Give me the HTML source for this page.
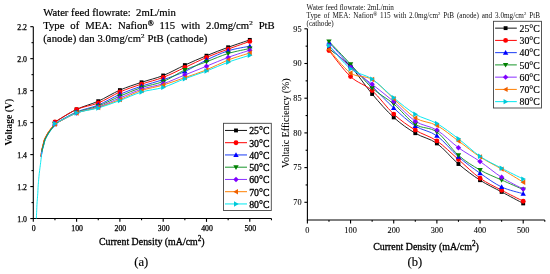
<!DOCTYPE html>
<html><head><meta charset="utf-8"><style>
html,body{margin:0;padding:0;background:#fff;}
body{width:550px;height:274px;position:relative;overflow:hidden;font-family:"Liberation Serif", serif;filter:blur(0.3px);}
svg{position:absolute;left:0;top:0;}
.t{position:absolute;white-space:nowrap;color:#000;-webkit-text-stroke:0.2px #000;}
.ns{-webkit-text-stroke:0;color:#111;}
text{stroke:#000;stroke-width:0.3px;}
.tk text{stroke-width:0.25px;}
.tr text{stroke-width:0.08px;}
.j{text-align:justify;text-align-last:justify;white-space:normal;}
.reg{font-size:0.74em;font-weight:bold;position:relative;top:-0.42em;line-height:0;}
.s2{font-size:0.66em;position:relative;top:-0.55em;line-height:0;}
</style></head><body>
<svg width="550" height="274" viewBox="0 0 550 274">
<g stroke="#000" stroke-width="1.1" fill="none">
<line x1="33.30" y1="26.67" x2="33.30" y2="219.05"/>
<line x1="32.80" y1="218.55" x2="271.45" y2="218.55"/>
<line x1="30.30" y1="218.55" x2="33.30" y2="218.55"/>
<line x1="30.30" y1="186.57" x2="33.30" y2="186.57"/>
<line x1="30.30" y1="154.59" x2="33.30" y2="154.59"/>
<line x1="30.30" y1="122.61" x2="33.30" y2="122.61"/>
<line x1="30.30" y1="90.63" x2="33.30" y2="90.63"/>
<line x1="30.30" y1="58.65" x2="33.30" y2="58.65"/>
<line x1="30.30" y1="26.67" x2="33.30" y2="26.67"/>
<line x1="31.50" y1="202.56" x2="33.30" y2="202.56"/>
<line x1="31.50" y1="170.58" x2="33.30" y2="170.58"/>
<line x1="31.50" y1="138.60" x2="33.30" y2="138.60"/>
<line x1="31.50" y1="106.62" x2="33.30" y2="106.62"/>
<line x1="31.50" y1="74.64" x2="33.30" y2="74.64"/>
<line x1="31.50" y1="42.66" x2="33.30" y2="42.66"/>
<line x1="33.30" y1="218.55" x2="33.30" y2="221.85"/>
<line x1="76.60" y1="218.55" x2="76.60" y2="221.85"/>
<line x1="119.90" y1="218.55" x2="119.90" y2="221.85"/>
<line x1="163.20" y1="218.55" x2="163.20" y2="221.85"/>
<line x1="206.50" y1="218.55" x2="206.50" y2="221.85"/>
<line x1="249.80" y1="218.55" x2="249.80" y2="221.85"/>
<line x1="54.95" y1="218.55" x2="54.95" y2="220.35"/>
<line x1="98.25" y1="218.55" x2="98.25" y2="220.35"/>
<line x1="141.55" y1="218.55" x2="141.55" y2="220.35"/>
<line x1="184.85" y1="218.55" x2="184.85" y2="220.35"/>
<line x1="228.15" y1="218.55" x2="228.15" y2="220.35"/>
<line x1="271.45" y1="218.55" x2="271.45" y2="220.35"/>
</g>
<g class="tk" font-family='"Liberation Serif", serif' font-size="7.8" fill="#000">
<text x="27.00" y="221.55" text-anchor="end">1.0</text>
<text x="27.00" y="189.57" text-anchor="end">1.2</text>
<text x="27.00" y="157.59" text-anchor="end">1.4</text>
<text x="27.00" y="125.61" text-anchor="end">1.6</text>
<text x="27.00" y="93.63" text-anchor="end">1.8</text>
<text x="27.00" y="61.65" text-anchor="end">2.0</text>
<text x="27.00" y="29.67" text-anchor="end">2.2</text>
<text x="33.80" y="231.10" text-anchor="middle">0</text>
<text x="77.10" y="231.10" text-anchor="middle">100</text>
<text x="120.40" y="231.10" text-anchor="middle">200</text>
<text x="163.70" y="231.10" text-anchor="middle">300</text>
<text x="207.00" y="231.10" text-anchor="middle">400</text>
<text x="250.30" y="231.10" text-anchor="middle">500</text>
</g>
<path d="M54.95,122.00 C58.56,119.90 69.38,112.87 76.60,109.40 C83.82,105.93 91.03,104.42 98.25,101.20 C105.47,97.98 112.68,93.25 119.90,90.10 C127.12,86.95 134.33,84.73 141.55,82.30 C148.77,79.87 155.98,78.37 163.20,75.50 C170.42,72.63 177.63,68.40 184.85,65.10 C192.07,61.80 199.28,58.67 206.50,55.70 C213.72,52.73 220.93,49.93 228.15,47.30 C235.37,44.67 246.19,41.13 249.80,39.90" stroke="#151515" stroke-width="0.95" fill="none" stroke-linejoin="round"/>
<path d="M54.95,122.00 C58.56,119.90 69.38,112.57 76.60,109.40 C83.82,106.23 91.03,105.90 98.25,103.00 C105.47,100.10 112.68,95.15 119.90,92.00 C127.12,88.85 134.33,86.53 141.55,84.10 C148.77,81.67 155.98,80.17 163.20,77.40 C170.42,74.63 177.63,70.83 184.85,67.50 C192.07,64.17 199.28,60.47 206.50,57.40 C213.72,54.33 220.93,51.77 228.15,49.10 C235.37,46.43 246.19,42.68 249.80,41.40" stroke="#ff0000" stroke-width="0.95" fill="none" stroke-linejoin="round"/>
<path d="M54.95,123.50 C58.56,121.58 69.38,115.08 76.60,112.00 C83.82,108.92 91.03,107.95 98.25,105.00 C105.47,102.05 112.68,97.45 119.90,94.30 C127.12,91.15 134.33,88.53 141.55,86.10 C148.77,83.67 155.98,82.13 163.20,79.70 C170.42,77.27 177.63,74.78 184.85,71.50 C192.07,68.22 199.28,63.45 206.50,60.00 C213.72,56.55 220.93,53.10 228.15,50.80 C235.37,48.50 246.19,46.97 249.80,46.20" stroke="#1a3cf5" stroke-width="0.95" fill="none" stroke-linejoin="round"/>
<path d="M54.95,124.00 C58.56,122.08 69.38,115.50 76.60,112.50 C83.82,109.50 91.03,108.72 98.25,106.00 C105.47,103.28 112.68,99.28 119.90,96.20 C127.12,93.12 134.33,89.95 141.55,87.50 C148.77,85.05 155.98,84.42 163.20,81.50 C170.42,78.58 177.63,73.28 184.85,70.00 C192.07,66.72 199.28,64.55 206.50,61.80 C213.72,59.05 220.93,55.72 228.15,53.50 C235.37,51.28 246.19,49.33 249.80,48.50" stroke="#18962a" stroke-width="0.95" fill="none" stroke-linejoin="round"/>
<path d="M54.95,124.00 C58.56,122.17 69.38,115.83 76.60,113.00 C83.82,110.17 91.03,109.50 98.25,107.00 C105.47,104.50 112.68,100.97 119.90,98.00 C127.12,95.03 134.33,91.58 141.55,89.20 C148.77,86.82 155.98,86.07 163.20,83.70 C170.42,81.33 177.63,77.92 184.85,75.00 C192.07,72.08 199.28,69.13 206.50,66.20 C213.72,63.27 220.93,60.07 228.15,57.40 C235.37,54.73 246.19,51.40 249.80,50.20" stroke="#8a30ff" stroke-width="0.95" fill="none" stroke-linejoin="round"/>
<path d="M54.95,124.00 C58.56,122.17 69.38,115.75 76.60,113.00 C83.82,110.25 91.03,109.75 98.25,107.50 C105.47,105.25 112.68,102.33 119.90,99.50 C127.12,96.67 134.33,92.92 141.55,90.50 C148.77,88.08 155.98,87.15 163.20,85.00 C170.42,82.85 177.63,80.12 184.85,77.60 C192.07,75.08 199.28,72.83 206.50,69.90 C213.72,66.97 220.93,62.82 228.15,60.00 C235.37,57.18 246.19,54.17 249.80,53.00" stroke="#ff8000" stroke-width="0.95" fill="none" stroke-linejoin="round"/>
<path d="M54.95,123.70 C58.56,121.92 69.38,115.62 76.60,113.00 C83.82,110.38 91.03,110.08 98.25,108.00 C105.47,105.92 112.68,103.17 119.90,100.50 C127.12,97.83 134.33,94.18 141.55,92.00 C148.77,89.82 155.98,89.62 163.20,87.40 C170.42,85.18 177.63,81.43 184.85,78.70 C192.07,75.97 199.28,73.75 206.50,71.00 C213.72,68.25 220.93,64.83 228.15,62.20 C235.37,59.57 246.19,56.37 249.80,55.20" stroke="#00e8f0" stroke-width="0.95" fill="none" stroke-linejoin="round"/>
<path d="M41.05,156.47 L41.22,154.92 L41.40,153.36 L41.61,151.81 L41.86,150.26 L42.20,148.71 L42.60,147.16 L43.01,145.61 L43.38,144.06 L43.72,142.51 L44.10,140.96 L44.61,139.41 L45.35,137.86 L46.16,136.31 L47.01,134.75 L47.92,133.20 L48.93,131.65 L50.04,130.10 L51.27,128.55 L52.60,127.00 L54.95,122.00" stroke="#151515" stroke-width="0.95" fill="none" stroke-linejoin="round"/>
<path d="M41.02,156.47 L41.18,154.92 L41.36,153.36 L41.56,151.81 L41.81,150.26 L42.14,148.71 L42.54,147.16 L42.95,145.61 L43.31,144.06 L43.65,142.51 L44.02,140.96 L44.53,139.41 L45.26,137.86 L46.07,136.31 L46.91,134.75 L47.82,133.20 L48.83,131.65 L49.94,130.10 L51.17,128.55 L52.50,127.00 L54.95,122.00" stroke="#ff0000" stroke-width="0.95" fill="none" stroke-linejoin="round"/>
<path d="M40.95,156.47 L41.10,154.92 L41.27,153.36 L41.47,151.81 L41.70,150.26 L42.03,148.71 L42.42,147.16 L42.82,145.61 L43.17,144.06 L43.50,142.51 L43.87,140.96 L44.36,139.41 L45.09,137.86 L45.88,136.31 L46.72,134.75 L47.62,133.20 L48.63,131.65 L49.74,130.10 L50.97,128.55 L52.30,127.00 L54.95,124.00" stroke="#ff8000" stroke-width="0.95" fill="none" stroke-linejoin="round"/>
<path d="M41.26,156.47 L41.45,154.92 L41.66,153.36 L41.90,151.81 L42.17,150.26 L42.54,148.71 L42.97,147.16 L43.40,145.61 L43.80,144.06 L44.17,142.51 L44.58,140.96 L45.11,139.41 L45.88,137.86 L46.71,136.31 L47.58,134.75 L48.52,133.20 L49.53,131.65 L50.64,130.10 L51.87,128.55 L53.20,127.00 L54.95,123.50" stroke="#1a3cf5" stroke-width="0.95" fill="none" stroke-linejoin="round"/>
<path d="M41.29,156.47 L41.49,154.92 L41.70,153.36 L41.94,151.81 L42.22,150.26 L42.60,148.71 L43.03,147.16 L43.47,145.61 L43.87,144.06 L44.24,142.51 L44.65,140.96 L45.20,139.41 L45.96,137.86 L46.80,136.31 L47.68,134.75 L48.62,133.20 L49.63,131.65 L50.74,130.10 L51.97,128.55 L53.30,127.00 L54.95,124.00" stroke="#8a30ff" stroke-width="0.95" fill="none" stroke-linejoin="round"/>
<path d="M36.30,218.50 L36.39,216.95 L36.48,215.40 L36.56,213.85 L36.63,212.30 L36.69,210.75 L36.76,209.19 L36.82,207.64 L36.89,206.09 L36.97,204.54 L37.06,202.99 L37.17,201.44 L37.29,199.89 L37.41,198.34 L37.53,196.79 L37.65,195.24 L37.76,193.69 L37.85,192.14 L37.92,190.58 L37.99,189.03 L38.07,187.48 L38.17,185.93 L38.27,184.38 L38.39,182.83 L38.52,181.28 L38.65,179.73 L38.79,178.18 L38.94,176.63 L39.09,175.08 L39.26,173.53 L39.44,171.97 L39.63,170.42 L39.82,168.87 L40.03,167.32 L40.24,165.77 L40.45,164.22 L40.64,162.67 L40.82,161.12 L41.00,159.57 L41.18,158.02 L41.38,156.47 L41.58,154.92 L41.81,153.36 L42.06,151.81 L42.35,150.26 L42.74,148.71 L43.18,147.16 L43.63,145.61 L44.04,144.06 L44.43,142.51 L44.85,140.96 L45.40,139.41 L46.18,137.86 L47.03,136.31 L47.92,134.75 L48.87,133.20 L49.88,131.65 L50.99,130.10 L52.22,128.55 L53.55,127.00 L54.95,123.70" stroke="#00e8f0" stroke-width="0.95" fill="none" stroke-linejoin="round"/>
<path d="M41.85,151.81 L42.12,150.26 L42.48,148.71 L42.91,147.16 L43.34,145.61 L43.73,144.06 L44.09,142.51 L44.50,140.96 L45.03,139.41 L45.79,137.86 L46.62,136.31 L47.49,134.75 L48.42,133.20 L49.43,131.65 L50.54,130.10 L51.77,128.55 L53.10,127.00 L54.95,124.00" stroke="#18962a" stroke-width="0.95" fill="none" stroke-linejoin="round"/>
<rect x="53.01" y="120.06" width="3.87" height="3.87" fill="#000000"/>
<rect x="74.66" y="107.47" width="3.87" height="3.87" fill="#000000"/>
<rect x="96.31" y="99.27" width="3.87" height="3.87" fill="#000000"/>
<rect x="117.96" y="88.16" width="3.87" height="3.87" fill="#000000"/>
<rect x="139.62" y="80.36" width="3.87" height="3.87" fill="#000000"/>
<rect x="161.26" y="73.56" width="3.87" height="3.87" fill="#000000"/>
<rect x="182.92" y="63.16" width="3.87" height="3.87" fill="#000000"/>
<rect x="204.56" y="53.77" width="3.87" height="3.87" fill="#000000"/>
<rect x="226.21" y="45.36" width="3.87" height="3.87" fill="#000000"/>
<rect x="247.87" y="37.96" width="3.87" height="3.87" fill="#000000"/>
<circle cx="54.95" cy="122.00" r="2.43" fill="#ff0000"/>
<circle cx="76.60" cy="109.40" r="2.43" fill="#ff0000"/>
<circle cx="98.25" cy="103.00" r="2.43" fill="#ff0000"/>
<circle cx="119.90" cy="92.00" r="2.43" fill="#ff0000"/>
<circle cx="141.55" cy="84.10" r="2.43" fill="#ff0000"/>
<circle cx="163.20" cy="77.40" r="2.43" fill="#ff0000"/>
<circle cx="184.85" cy="67.50" r="2.43" fill="#ff0000"/>
<circle cx="206.50" cy="57.40" r="2.43" fill="#ff0000"/>
<circle cx="228.15" cy="49.10" r="2.43" fill="#ff0000"/>
<circle cx="249.80" cy="41.40" r="2.43" fill="#ff0000"/>
<polygon points="54.95,120.81 57.64,125.52 52.26,125.52" fill="#0000ff"/>
<polygon points="76.60,109.31 79.29,114.02 73.91,114.02" fill="#0000ff"/>
<polygon points="98.25,102.31 100.94,107.02 95.56,107.02" fill="#0000ff"/>
<polygon points="119.90,91.61 122.59,96.32 117.21,96.32" fill="#0000ff"/>
<polygon points="141.55,83.41 144.24,88.12 138.86,88.12" fill="#0000ff"/>
<polygon points="163.20,77.01 165.89,81.72 160.51,81.72" fill="#0000ff"/>
<polygon points="184.85,68.81 187.54,73.52 182.16,73.52" fill="#0000ff"/>
<polygon points="206.50,57.31 209.19,62.02 203.81,62.02" fill="#0000ff"/>
<polygon points="228.15,48.11 230.84,52.82 225.46,52.82" fill="#0000ff"/>
<polygon points="249.80,43.51 252.49,48.22 247.11,48.22" fill="#0000ff"/>
<polygon points="54.95,126.69 57.64,121.98 52.26,121.98" fill="#008000"/>
<polygon points="76.60,115.19 79.29,110.48 73.91,110.48" fill="#008000"/>
<polygon points="98.25,108.69 100.94,103.98 95.56,103.98" fill="#008000"/>
<polygon points="119.90,98.89 122.59,94.18 117.21,94.18" fill="#008000"/>
<polygon points="141.55,90.19 144.24,85.48 138.86,85.48" fill="#008000"/>
<polygon points="163.20,84.19 165.89,79.48 160.51,79.48" fill="#008000"/>
<polygon points="184.85,72.69 187.54,67.98 182.16,67.98" fill="#008000"/>
<polygon points="206.50,64.49 209.19,59.78 203.81,59.78" fill="#008000"/>
<polygon points="228.15,56.19 230.84,51.48 225.46,51.48" fill="#008000"/>
<polygon points="249.80,51.19 252.49,46.48 247.11,46.48" fill="#008000"/>
<polygon points="54.95,121.31 57.64,124.00 54.95,126.69 52.26,124.00" fill="#8000ff"/>
<polygon points="76.60,110.31 79.29,113.00 76.60,115.69 73.91,113.00" fill="#8000ff"/>
<polygon points="98.25,104.31 100.94,107.00 98.25,109.69 95.56,107.00" fill="#8000ff"/>
<polygon points="119.90,95.31 122.59,98.00 119.90,100.69 117.21,98.00" fill="#8000ff"/>
<polygon points="141.55,86.51 144.24,89.20 141.55,91.89 138.86,89.20" fill="#8000ff"/>
<polygon points="163.20,81.01 165.89,83.70 163.20,86.39 160.51,83.70" fill="#8000ff"/>
<polygon points="184.85,72.31 187.54,75.00 184.85,77.69 182.16,75.00" fill="#8000ff"/>
<polygon points="206.50,63.51 209.19,66.20 206.50,68.89 203.81,66.20" fill="#8000ff"/>
<polygon points="228.15,54.71 230.84,57.40 228.15,60.09 225.46,57.40" fill="#8000ff"/>
<polygon points="249.80,47.51 252.49,50.20 249.80,52.89 247.11,50.20" fill="#8000ff"/>
<polygon points="52.26,124.00 56.97,121.31 56.97,126.69" fill="#f06000"/>
<polygon points="73.91,113.00 78.62,110.31 78.62,115.69" fill="#f06000"/>
<polygon points="95.56,107.50 100.27,104.81 100.27,110.19" fill="#f06000"/>
<polygon points="117.21,99.50 121.92,96.81 121.92,102.19" fill="#f06000"/>
<polygon points="138.86,90.50 143.57,87.81 143.57,93.19" fill="#f06000"/>
<polygon points="160.51,85.00 165.22,82.31 165.22,87.69" fill="#f06000"/>
<polygon points="182.16,77.60 186.87,74.91 186.87,80.29" fill="#f06000"/>
<polygon points="203.81,69.90 208.52,67.21 208.52,72.59" fill="#f06000"/>
<polygon points="225.46,60.00 230.17,57.31 230.17,62.69" fill="#f06000"/>
<polygon points="247.11,53.00 251.82,50.31 251.82,55.69" fill="#f06000"/>
<polygon points="57.64,123.70 52.93,121.01 52.93,126.39" fill="#00c8d8"/>
<polygon points="79.29,113.00 74.58,110.31 74.58,115.69" fill="#00c8d8"/>
<polygon points="100.94,108.00 96.23,105.31 96.23,110.69" fill="#00c8d8"/>
<polygon points="122.59,100.50 117.88,97.81 117.88,103.19" fill="#00c8d8"/>
<polygon points="144.24,92.00 139.53,89.31 139.53,94.69" fill="#00c8d8"/>
<polygon points="165.89,87.40 161.18,84.71 161.18,90.09" fill="#00c8d8"/>
<polygon points="187.54,78.70 182.83,76.01 182.83,81.39" fill="#00c8d8"/>
<polygon points="209.19,71.00 204.48,68.31 204.48,73.69" fill="#00c8d8"/>
<polygon points="230.84,62.20 226.13,59.51 226.13,64.89" fill="#00c8d8"/>
<polygon points="252.49,55.20 247.78,52.51 247.78,57.89" fill="#00c8d8"/>
<g stroke="#000" stroke-width="1.1" fill="none">
<line x1="307.40" y1="28.80" x2="307.40" y2="220.50"/>
<line x1="306.90" y1="220" x2="544.78" y2="220"/>
<line x1="304.40" y1="202.30" x2="307.40" y2="202.30"/>
<line x1="304.40" y1="167.60" x2="307.40" y2="167.60"/>
<line x1="304.40" y1="132.90" x2="307.40" y2="132.90"/>
<line x1="304.40" y1="98.20" x2="307.40" y2="98.20"/>
<line x1="304.40" y1="63.50" x2="307.40" y2="63.50"/>
<line x1="304.40" y1="28.80" x2="307.40" y2="28.80"/>
<line x1="305.60" y1="184.95" x2="307.40" y2="184.95"/>
<line x1="305.60" y1="150.25" x2="307.40" y2="150.25"/>
<line x1="305.60" y1="115.55" x2="307.40" y2="115.55"/>
<line x1="305.60" y1="80.85" x2="307.40" y2="80.85"/>
<line x1="305.60" y1="46.15" x2="307.40" y2="46.15"/>
<line x1="307.40" y1="220" x2="307.40" y2="223.5"/>
<line x1="350.56" y1="220" x2="350.56" y2="223.5"/>
<line x1="393.72" y1="220" x2="393.72" y2="223.5"/>
<line x1="436.88" y1="220" x2="436.88" y2="223.5"/>
<line x1="480.04" y1="220" x2="480.04" y2="223.5"/>
<line x1="523.20" y1="220" x2="523.20" y2="223.5"/>
<line x1="328.98" y1="220" x2="328.98" y2="221.8"/>
<line x1="372.14" y1="220" x2="372.14" y2="221.8"/>
<line x1="415.30" y1="220" x2="415.30" y2="221.8"/>
<line x1="458.46" y1="220" x2="458.46" y2="221.8"/>
<line x1="501.62" y1="220" x2="501.62" y2="221.8"/>
<line x1="544.78" y1="220" x2="544.78" y2="221.8"/>
</g>
<g class="tr" font-family='"Liberation Serif", serif' font-size="8.3" fill="#000">
<text x="301.6" y="205.10" text-anchor="end">70</text>
<text x="301.6" y="170.40" text-anchor="end">75</text>
<text x="301.6" y="135.70" text-anchor="end">80</text>
<text x="301.6" y="101.00" text-anchor="end">85</text>
<text x="301.6" y="66.30" text-anchor="end">90</text>
<text x="301.6" y="31.60" text-anchor="end">95</text>
<text x="307.40" y="232.6" text-anchor="middle">0</text>
<text x="350.56" y="232.6" text-anchor="middle">100</text>
<text x="393.72" y="232.6" text-anchor="middle">200</text>
<text x="436.88" y="232.6" text-anchor="middle">300</text>
<text x="480.04" y="232.6" text-anchor="middle">400</text>
<text x="523.20" y="232.6" text-anchor="middle">500</text>
</g>
<path d="M328.98,48.70 C332.58,51.67 343.37,58.95 350.56,66.50 C357.75,74.05 364.95,85.52 372.14,94.00 C379.33,102.48 386.53,110.87 393.72,117.40 C400.91,123.93 408.11,128.87 415.30,133.20 C422.49,137.53 429.69,138.27 436.88,143.40 C444.07,148.53 451.27,157.87 458.46,164.00 C465.65,170.13 472.85,175.55 480.04,180.20 C487.23,184.85 494.43,188.03 501.62,191.90 C508.81,195.77 519.60,201.48 523.20,203.40" stroke="#151515" stroke-width="0.95" fill="none" stroke-linejoin="round"/>
<path d="M328.98,50.50 C332.58,54.85 343.37,69.92 350.56,76.60 C357.75,83.28 364.95,84.35 372.14,90.60 C379.33,96.85 386.53,107.52 393.72,114.10 C400.91,120.68 408.11,125.63 415.30,130.10 C422.49,134.57 429.69,136.00 436.88,140.90 C444.07,145.80 451.27,153.28 458.46,159.50 C465.65,165.72 472.85,173.08 480.04,178.20 C487.23,183.32 494.43,186.37 501.62,190.20 C508.81,194.03 519.60,199.37 523.20,201.20" stroke="#ff0000" stroke-width="0.95" fill="none" stroke-linejoin="round"/>
<path d="M328.98,42.40 C332.58,46.25 343.37,58.18 350.56,65.50 C357.75,72.82 364.95,79.22 372.14,86.30 C379.33,93.38 386.53,101.38 393.72,108.00 C400.91,114.62 408.11,121.37 415.30,126.00 C422.49,130.63 429.69,130.67 436.88,135.80 C444.07,140.93 451.27,150.57 458.46,156.80 C465.65,163.03 472.85,168.17 480.04,173.20 C487.23,178.23 494.43,183.58 501.62,187.00 C508.81,190.42 519.60,192.58 523.20,193.70" stroke="#1a3cf5" stroke-width="0.95" fill="none" stroke-linejoin="round"/>
<path d="M328.98,41.40 C332.58,45.20 343.37,56.42 350.56,64.20 C357.75,71.98 364.95,81.48 372.14,88.10 C379.33,94.72 386.53,97.87 393.72,103.90 C400.91,109.93 408.11,119.62 415.30,124.30 C422.49,128.98 429.69,126.83 436.88,132.00 C444.07,137.17 451.27,148.97 458.46,155.30 C465.65,161.63 472.85,165.88 480.04,170.00 C487.23,174.12 494.43,176.75 501.62,180.00 C508.81,183.25 519.60,187.92 523.20,189.50" stroke="#18962a" stroke-width="0.95" fill="none" stroke-linejoin="round"/>
<path d="M328.98,45.60 C332.58,49.25 343.37,61.05 350.56,67.50 C357.75,73.95 364.95,78.62 372.14,84.30 C379.33,89.98 386.53,95.45 393.72,101.60 C400.91,107.75 408.11,116.45 415.30,121.20 C422.49,125.95 429.69,125.68 436.88,130.10 C444.07,134.52 451.27,142.47 458.46,147.70 C465.65,152.93 472.85,156.57 480.04,161.50 C487.23,166.43 494.43,172.70 501.62,177.30 C508.81,181.90 519.60,187.13 523.20,189.10" stroke="#8a30ff" stroke-width="0.95" fill="none" stroke-linejoin="round"/>
<path d="M328.98,49.60 C332.58,53.50 343.37,68.02 350.56,73.00 C357.75,77.98 364.95,75.20 372.14,79.50 C379.33,83.80 386.53,92.40 393.72,98.80 C400.91,105.20 408.11,113.45 415.30,117.90 C422.49,122.35 429.69,121.65 436.88,125.50 C444.07,129.35 451.27,135.77 458.46,141.00 C465.65,146.23 472.85,152.22 480.04,156.90 C487.23,161.58 494.43,164.88 501.62,169.10 C508.81,173.32 519.60,180.02 523.20,182.20" stroke="#ff8000" stroke-width="0.95" fill="none" stroke-linejoin="round"/>
<path d="M328.98,45.60 C332.58,49.47 343.37,63.22 350.56,68.80 C357.75,74.38 364.95,74.27 372.14,79.10 C379.33,83.93 386.53,91.95 393.72,97.80 C400.91,103.65 408.11,109.92 415.30,114.20 C422.49,118.48 429.69,119.40 436.88,123.50 C444.07,127.60 451.27,133.33 458.46,138.80 C465.65,144.27 472.85,151.40 480.04,156.30 C487.23,161.20 494.43,164.40 501.62,168.20 C508.81,172.00 519.60,177.28 523.20,179.10" stroke="#00e8f0" stroke-width="0.95" fill="none" stroke-linejoin="round"/>
<rect x="327.04" y="46.77" width="3.87" height="3.87" fill="#000000"/>
<rect x="348.62" y="64.56" width="3.87" height="3.87" fill="#000000"/>
<rect x="370.20" y="92.06" width="3.87" height="3.87" fill="#000000"/>
<rect x="391.78" y="115.47" width="3.87" height="3.87" fill="#000000"/>
<rect x="413.36" y="131.26" width="3.87" height="3.87" fill="#000000"/>
<rect x="434.94" y="141.47" width="3.87" height="3.87" fill="#000000"/>
<rect x="456.52" y="162.06" width="3.87" height="3.87" fill="#000000"/>
<rect x="478.10" y="178.26" width="3.87" height="3.87" fill="#000000"/>
<rect x="499.69" y="189.97" width="3.87" height="3.87" fill="#000000"/>
<rect x="521.26" y="201.47" width="3.87" height="3.87" fill="#000000"/>
<circle cx="328.98" cy="50.50" r="2.43" fill="#ff0000"/>
<circle cx="350.56" cy="76.60" r="2.43" fill="#ff0000"/>
<circle cx="372.14" cy="90.60" r="2.43" fill="#ff0000"/>
<circle cx="393.72" cy="114.10" r="2.43" fill="#ff0000"/>
<circle cx="415.30" cy="130.10" r="2.43" fill="#ff0000"/>
<circle cx="436.88" cy="140.90" r="2.43" fill="#ff0000"/>
<circle cx="458.46" cy="159.50" r="2.43" fill="#ff0000"/>
<circle cx="480.04" cy="178.20" r="2.43" fill="#ff0000"/>
<circle cx="501.62" cy="190.20" r="2.43" fill="#ff0000"/>
<circle cx="523.20" cy="201.20" r="2.43" fill="#ff0000"/>
<polygon points="328.98,39.71 331.67,44.42 326.29,44.42" fill="#0000ff"/>
<polygon points="350.56,62.81 353.25,67.52 347.87,67.52" fill="#0000ff"/>
<polygon points="372.14,83.61 374.83,88.32 369.45,88.32" fill="#0000ff"/>
<polygon points="393.72,105.31 396.41,110.02 391.03,110.02" fill="#0000ff"/>
<polygon points="415.30,123.31 417.99,128.02 412.61,128.02" fill="#0000ff"/>
<polygon points="436.88,133.11 439.57,137.82 434.19,137.82" fill="#0000ff"/>
<polygon points="458.46,154.11 461.15,158.82 455.77,158.82" fill="#0000ff"/>
<polygon points="480.04,170.51 482.73,175.22 477.35,175.22" fill="#0000ff"/>
<polygon points="501.62,184.31 504.31,189.02 498.93,189.02" fill="#0000ff"/>
<polygon points="523.20,191.01 525.89,195.72 520.51,195.72" fill="#0000ff"/>
<polygon points="328.98,44.09 331.67,39.38 326.29,39.38" fill="#008000"/>
<polygon points="350.56,66.89 353.25,62.18 347.87,62.18" fill="#008000"/>
<polygon points="372.14,90.79 374.83,86.08 369.45,86.08" fill="#008000"/>
<polygon points="393.72,106.59 396.41,101.88 391.03,101.88" fill="#008000"/>
<polygon points="415.30,126.99 417.99,122.28 412.61,122.28" fill="#008000"/>
<polygon points="436.88,134.69 439.57,129.98 434.19,129.98" fill="#008000"/>
<polygon points="458.46,157.99 461.15,153.28 455.77,153.28" fill="#008000"/>
<polygon points="480.04,172.69 482.73,167.98 477.35,167.98" fill="#008000"/>
<polygon points="501.62,182.69 504.31,177.98 498.93,177.98" fill="#008000"/>
<polygon points="523.20,192.19 525.89,187.48 520.51,187.48" fill="#008000"/>
<polygon points="328.98,42.91 331.67,45.60 328.98,48.29 326.29,45.60" fill="#8000ff"/>
<polygon points="350.56,64.81 353.25,67.50 350.56,70.19 347.87,67.50" fill="#8000ff"/>
<polygon points="372.14,81.61 374.83,84.30 372.14,86.99 369.45,84.30" fill="#8000ff"/>
<polygon points="393.72,98.91 396.41,101.60 393.72,104.29 391.03,101.60" fill="#8000ff"/>
<polygon points="415.30,118.51 417.99,121.20 415.30,123.89 412.61,121.20" fill="#8000ff"/>
<polygon points="436.88,127.41 439.57,130.10 436.88,132.79 434.19,130.10" fill="#8000ff"/>
<polygon points="458.46,145.01 461.15,147.70 458.46,150.39 455.77,147.70" fill="#8000ff"/>
<polygon points="480.04,158.81 482.73,161.50 480.04,164.19 477.35,161.50" fill="#8000ff"/>
<polygon points="501.62,174.61 504.31,177.30 501.62,179.99 498.93,177.30" fill="#8000ff"/>
<polygon points="523.20,186.41 525.89,189.10 523.20,191.79 520.51,189.10" fill="#8000ff"/>
<polygon points="326.29,49.60 331.00,46.91 331.00,52.29" fill="#f06000"/>
<polygon points="347.87,73.00 352.58,70.31 352.58,75.69" fill="#f06000"/>
<polygon points="369.45,79.50 374.16,76.81 374.16,82.19" fill="#f06000"/>
<polygon points="391.03,98.80 395.74,96.11 395.74,101.49" fill="#f06000"/>
<polygon points="412.61,117.90 417.32,115.21 417.32,120.59" fill="#f06000"/>
<polygon points="434.19,125.50 438.90,122.81 438.90,128.19" fill="#f06000"/>
<polygon points="455.77,141.00 460.48,138.31 460.48,143.69" fill="#f06000"/>
<polygon points="477.35,156.90 482.06,154.21 482.06,159.59" fill="#f06000"/>
<polygon points="498.93,169.10 503.64,166.41 503.64,171.79" fill="#f06000"/>
<polygon points="520.51,182.20 525.22,179.51 525.22,184.89" fill="#f06000"/>
<polygon points="331.67,45.60 326.96,42.91 326.96,48.29" fill="#00c8d8"/>
<polygon points="353.25,68.80 348.54,66.11 348.54,71.49" fill="#00c8d8"/>
<polygon points="374.83,79.10 370.12,76.41 370.12,81.79" fill="#00c8d8"/>
<polygon points="396.41,97.80 391.70,95.11 391.70,100.49" fill="#00c8d8"/>
<polygon points="417.99,114.20 413.28,111.51 413.28,116.89" fill="#00c8d8"/>
<polygon points="439.57,123.50 434.86,120.81 434.86,126.19" fill="#00c8d8"/>
<polygon points="461.15,138.80 456.44,136.11 456.44,141.49" fill="#00c8d8"/>
<polygon points="482.73,156.30 478.02,153.61 478.02,158.99" fill="#00c8d8"/>
<polygon points="504.31,168.20 499.60,165.51 499.60,170.89" fill="#00c8d8"/>
<polygon points="525.89,179.10 521.18,176.41 521.18,181.79" fill="#00c8d8"/>
<rect x="223.5" y="123.3" width="47.80000000000001" height="87.2" fill="#fff" stroke="#444" stroke-width="0.9"/>
<line x1="225" y1="130.45" x2="247" y2="130.45" stroke="#151515" stroke-width="1"/>
<rect x="234.06" y="128.51" width="3.87" height="3.87" fill="#000000"/>
<text x="249.2" y="134.25" font-family='"Liberation Serif", serif' font-size="9.8" fill="#000">25°C</text>
<line x1="225" y1="142.70" x2="247" y2="142.70" stroke="#ff0000" stroke-width="1"/>
<circle cx="236.00" cy="142.70" r="2.43" fill="#ff0000"/>
<text x="249.2" y="146.50" font-family='"Liberation Serif", serif' font-size="9.8" fill="#000">30°C</text>
<line x1="225" y1="154.95" x2="247" y2="154.95" stroke="#1a3cf5" stroke-width="1"/>
<polygon points="236.00,152.26 238.69,156.97 233.31,156.97" fill="#0000ff"/>
<text x="249.2" y="158.75" font-family='"Liberation Serif", serif' font-size="9.8" fill="#000">40°C</text>
<line x1="225" y1="167.20" x2="247" y2="167.20" stroke="#18962a" stroke-width="1"/>
<polygon points="236.00,169.89 238.69,165.18 233.31,165.18" fill="#008000"/>
<text x="249.2" y="171.00" font-family='"Liberation Serif", serif' font-size="9.8" fill="#000">50°C</text>
<line x1="225" y1="179.45" x2="247" y2="179.45" stroke="#8a30ff" stroke-width="1"/>
<polygon points="236.00,176.76 238.69,179.45 236.00,182.14 233.31,179.45" fill="#8000ff"/>
<text x="249.2" y="183.25" font-family='"Liberation Serif", serif' font-size="9.8" fill="#000">60°C</text>
<line x1="225" y1="191.70" x2="247" y2="191.70" stroke="#ff8000" stroke-width="1"/>
<polygon points="233.31,191.70 238.02,189.01 238.02,194.39" fill="#f06000"/>
<text x="249.2" y="195.50" font-family='"Liberation Serif", serif' font-size="9.8" fill="#000">70°C</text>
<line x1="225" y1="203.95" x2="247" y2="203.95" stroke="#00e8f0" stroke-width="1"/>
<polygon points="238.69,203.95 233.98,201.26 233.98,206.64" fill="#00c8d8"/>
<text x="249.2" y="207.75" font-family='"Liberation Serif", serif' font-size="9.8" fill="#000">80°C</text>
<rect x="493.5" y="21.3" width="48.0" height="86.7" fill="#fff" stroke="#444" stroke-width="0.9"/>
<line x1="495.1" y1="28.15" x2="516.8" y2="28.15" stroke="#151515" stroke-width="1"/>
<rect x="503.67" y="26.21" width="3.87" height="3.87" fill="#000000"/>
<text x="519.5" y="31.95" font-family='"Liberation Serif", serif' font-size="9.8" fill="#000" style="stroke-width:0.18px">25°C</text>
<line x1="495.1" y1="40.40" x2="516.8" y2="40.40" stroke="#ff0000" stroke-width="1"/>
<circle cx="505.60" cy="40.40" r="2.43" fill="#ff0000"/>
<text x="519.5" y="44.20" font-family='"Liberation Serif", serif' font-size="9.8" fill="#000" style="stroke-width:0.18px">30°C</text>
<line x1="495.1" y1="52.65" x2="516.8" y2="52.65" stroke="#1a3cf5" stroke-width="1"/>
<polygon points="505.60,49.96 508.29,54.67 502.91,54.67" fill="#0000ff"/>
<text x="519.5" y="56.45" font-family='"Liberation Serif", serif' font-size="9.8" fill="#000" style="stroke-width:0.18px">40°C</text>
<line x1="495.1" y1="64.90" x2="516.8" y2="64.90" stroke="#18962a" stroke-width="1"/>
<polygon points="505.60,67.59 508.29,62.88 502.91,62.88" fill="#008000"/>
<text x="519.5" y="68.70" font-family='"Liberation Serif", serif' font-size="9.8" fill="#000" style="stroke-width:0.18px">50°C</text>
<line x1="495.1" y1="77.15" x2="516.8" y2="77.15" stroke="#8a30ff" stroke-width="1"/>
<polygon points="505.60,74.46 508.29,77.15 505.60,79.84 502.91,77.15" fill="#8000ff"/>
<text x="519.5" y="80.95" font-family='"Liberation Serif", serif' font-size="9.8" fill="#000" style="stroke-width:0.18px">60°C</text>
<line x1="495.1" y1="89.40" x2="516.8" y2="89.40" stroke="#ff8000" stroke-width="1"/>
<polygon points="502.91,89.40 507.62,86.71 507.62,92.09" fill="#f06000"/>
<text x="519.5" y="93.20" font-family='"Liberation Serif", serif' font-size="9.8" fill="#000" style="stroke-width:0.18px">70°C</text>
<line x1="495.1" y1="101.65" x2="516.8" y2="101.65" stroke="#00e8f0" stroke-width="1"/>
<polygon points="508.29,101.65 503.58,98.96 503.58,104.34" fill="#00c8d8"/>
<text x="519.5" y="105.45" font-family='"Liberation Serif", serif' font-size="9.8" fill="#000" style="stroke-width:0.18px">80°C</text>
<text transform="translate(12.4,122.2) rotate(-90)" text-anchor="middle" font-family='"Liberation Serif", serif' font-size="9.7" font-weight="bold" style="stroke-width:0">Voltage (V)</text>
<text transform="translate(289.0,123.1) rotate(-90)" text-anchor="middle" font-family='"Liberation Serif", serif' font-size="10" style="stroke-width:0.05px">Voltaic Efficiency (%)</text>
<text x="151.8" y="244.5" text-anchor="middle" font-family='"Liberation Serif", serif' font-size="9.9">Current Density (mA/cm<tspan font-size="7.2" dy="-3.9">2</tspan><tspan dy="3.9">)</tspan></text>
<text x="426.0" y="249.9" text-anchor="middle" font-family='"Liberation Serif", serif' font-size="9.9">Current Density (mA/cm<tspan font-size="7.2" dy="-3.9">2</tspan><tspan dy="3.9">)</tspan></text>
<text x="141.3" y="265.7" text-anchor="middle" font-family='"Liberation Serif", serif' font-size="12.6" style="stroke-width:0.15px">(a)</text>
<text x="414.9" y="265.7" text-anchor="middle" font-family='"Liberation Serif", serif' font-size="12.6" style="stroke-width:0.15px">(b)</text>
</svg>
<div class="t" style="left:43.2px;top:5.89px;font-size:10.7px;line-height:13px;">Water feed flowrate:&nbsp; 2mL/min</div>
<div class="t j" style="left:43.2px;top:19.09px;width:231.5px;font-size:10.7px;line-height:13px;">Type of MEA: Nafion<span class="reg">®</span> 115 with 2.0mg/cm<span class="s2">2</span> PtB</div>
<div class="t" style="left:43.2px;top:31.69px;font-size:10.7px;line-height:13px;letter-spacing:0.07px;">(anode) dan 3.0mg/cm<span class="s2">2</span> PtB (cathode)</div>
<div class="t ns" style="left:306.5px;top:4.22px;font-size:7.2px;line-height:8.3px;">Water feed flowrate: 2mL/min</div>
<div class="t j ns" style="left:306.5px;top:11.92px;width:233.5px;font-size:7.2px;line-height:8.3px;">Type of MEA: Nafion<span class="reg">®</span> 115 with 2.0mg/cm<span class="s2">2</span> PtB (anode) and 3.0mg/cm<span class="s2">2</span> PtB</div>
<div class="t ns" style="left:306.5px;top:19.62px;font-size:7.2px;line-height:8.3px;">(cathode)</div>
</body></html>
